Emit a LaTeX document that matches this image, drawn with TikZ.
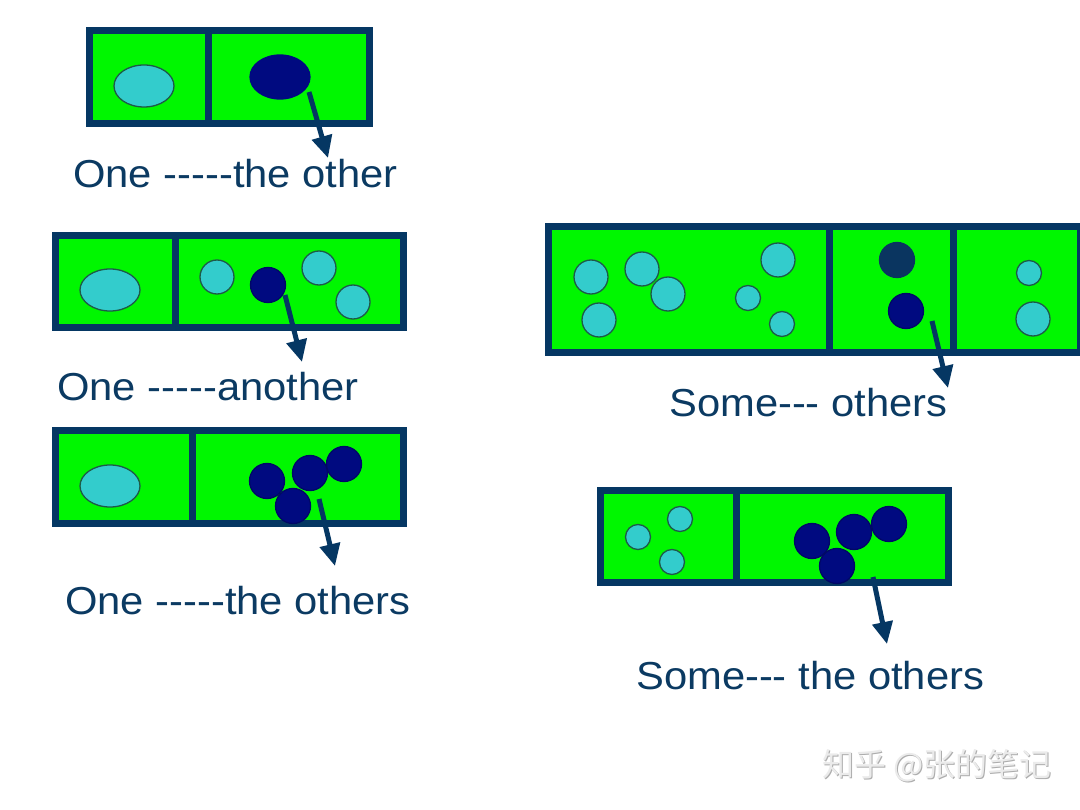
\documentclass[tikz,border=0pt]{standalone}
\usepackage{fontspec}
\setmainfont{Liberation Sans}[Ligatures=TeXOff]
\newfontfamily\cjk{Noto Sans CJK SC}
\usetikzlibrary{arrows.meta,shapes.geometric}
\definecolor{navyline}{HTML}{053763}
\definecolor{textblue}{HTML}{0B3A62}
\definecolor{cellgreen}{HTML}{00F700}
\definecolor{cyanball}{HTML}{33CCCC}
\definecolor{cyanedge}{HTML}{1E5A48}
\definecolor{navyball}{HTML}{000A80}
\definecolor{slateball}{HTML}{0A3560}
\begin{document}
\begin{tikzpicture}[x=1pt,y=-1pt,
  boxline/.style={draw=navyline,line width=7pt,fill=cellgreen},
  divline/.style={draw=navyline,line width=7pt},
  cyanegg/.style={ellipse,draw=cyanedge,line width=1.3pt,fill=cyanball,minimum width=60pt,minimum height=42pt,inner sep=0pt},
  navyegg/.style={ellipse,draw=navyball,line width=1.3pt,fill=navyball,minimum width=60pt,minimum height=44pt,inner sep=0pt},
  cyanbig/.style={circle,draw=cyanedge,line width=1.3pt,fill=cyanball,minimum size=34pt,inner sep=0pt},
  cyansmall/.style={circle,draw=cyanedge,line width=1.3pt,fill=cyanball,minimum size=25pt,inner sep=0pt},
  navydot/.style={circle,draw=navyball!80!black,line width=1.3pt,fill=navyball,minimum size=35pt,inner sep=0pt},
  slatedot/.style={circle,draw=slateball,line width=1.3pt,fill=slateball,minimum size=35pt,inner sep=0pt},
  pointer/.style={draw=navyline,line width=5pt,-{Triangle[width=20pt,length=22pt]}},
  caption/.style={anchor=base west,inner sep=0pt,text=textblue,font=\fontsize{39}{47}\selectfont}
]
\useasboundingbox (0,0) rectangle (1080,810);
\fill[white] (0,0) rectangle (1080,810);

% ---------- Box 1: One -- the other
\draw[boxline] (89.5,30.5) rectangle (369.5,123.5);
\draw[divline] (208,30.5) -- (208,123.5);
\node[cyanegg] (b1e) at (144,86) {};
\node[navyegg] (b1d) at (280,77) {};
\node[caption] (t1) at (73,188) {\scalebox{1.07}[1]{One -----the other}};
\coordinate (a1s) at (309,92);
\coordinate (a1e) at (328,158);
\draw[pointer] (a1s) -- (a1e);

% ---------- Box 2: One -- another
\draw[boxline] (55.5,235.5) rectangle (403.5,327.5);
\draw[divline] (175,235.5) -- (175,327.5);
\node[cyanegg] (b2e) at (110,290) {};
\node[cyanbig] (b2c1) at (217,277) {};
\node[navydot] (b2d) at (268,285) {};
\node[cyanbig] (b2c2) at (319,268) {};
\node[cyanbig] (b2c3) at (353,302) {};
\node[caption] (t2) at (57,401) {\scalebox{1.07}[1]{One -----another}};
\coordinate (a2s) at (285,295);
\coordinate (a2e) at (302,362);
\draw[pointer] (a2s) -- (a2e);

% ---------- Box 3: One -- the others
\draw[boxline] (55.5,430.5) rectangle (403.5,523.5);
\draw[divline] (192,430.5) -- (192,523.5);
\node[cyanegg] (b3e) at (110,486) {};
\node[navydot] (b3d1) at (267,481) {};
\node[navydot] (b3d2) at (310,473) {};
\node[navydot] (b3d3) at (344,464) {};
\node[navydot] (b3d4) at (293,506) {};
\node[caption] (t3) at (65,614) {\scalebox{1.07}[1]{One -----the others}};
\coordinate (a3s) at (319,499);
\coordinate (a3e) at (335,566);
\draw[pointer] (a3s) -- (a3e);

% ---------- Box 4: Some -- others
\draw[boxline] (548.5,226.5) rectangle (1080.5,352.5);
\draw[divline] (829,226.5) -- (829,352.5);
\draw[divline] (953,226.5) -- (953,352.5);
\node[cyanbig] (b4c1) at (591,277) {};
\node[cyanbig] (b4c2) at (642,269) {};
\node[cyanbig] (b4c3) at (668,294) {};
\node[cyanbig] (b4c4) at (599,320) {};
\node[cyanbig] (b4c5) at (778,260) {};
\node[cyansmall] (b4c6) at (748,298) {};
\node[cyansmall] (b4c7) at (782,324) {};
\node[slatedot] (b4s) at (897,260) {};
\node[navydot] (b4d) at (906,311) {};
\node[cyansmall] (b4c8) at (1029,273) {};
\node[cyanbig] (b4c9) at (1033,319) {};
\node[caption] (t4) at (669,417) {\scalebox{1.07}[1]{Some--- others}};
\coordinate (a4s) at (932,321);
\coordinate (a4e) at (948,388);
\draw[pointer] (a4s) -- (a4e);

% ---------- Box 5: Some -- the others
\draw[boxline] (600.5,490.5) rectangle (948.5,582.5);
\draw[divline] (736,490.5) -- (736,582.5);
\node[cyansmall] (b5c1) at (638,537) {};
\node[cyansmall] (b5c2) at (680,519) {};
\node[cyansmall] (b5c3) at (672,562) {};
\node[navydot] (b5d1) at (812,541) {};
\node[navydot] (b5d2) at (854,532) {};
\node[navydot] (b5d3) at (889,524) {};
\node[navydot] (b5d4) at (837,566) {};
\node[caption] (t5) at (636,689) {\scalebox{1.07}[1]{Some--- the others}};
\coordinate (a5s) at (873,577);
\coordinate (a5e) at (887,644);
\draw[pointer] (a5s) -- (a5e);

% ---------- watermark
\node[anchor=west,inner sep=0pt,text=black!32,font=\cjk\fontsize{32}{38}\selectfont] (wms) at (823,767) {知乎 @张的笔记};
\node[anchor=west,inner sep=0pt,text=black!8,font=\cjk\fontsize{32}{38}\selectfont] (wm) at (822,766) {知乎 @张的笔记};
\end{tikzpicture}
\end{document}
